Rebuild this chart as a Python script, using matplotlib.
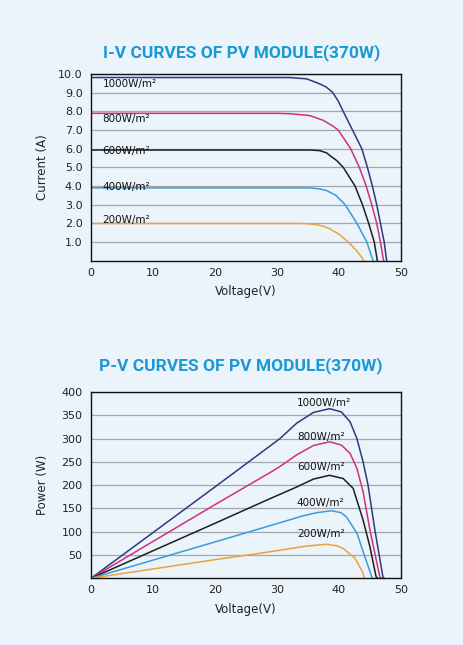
import matplotlib
matplotlib.use("Agg")
import matplotlib.pyplot as plt

# readings from the reference chart
labels = ["1000W/m²", "800W/m²", "600W/m²", "400W/m²", "200W/m²"]
colors = ["#2f3a7e", "#d3307a", "#1e1e1e", "#3a9bd8", "#eea23a"]

# I-V curves: voltage (V) / current (A)
iv_v = [
    [0, 10, 20, 30, 32.1, 34.8, 36.9, 38.0, 39.0, 39.9, 40.7, 42.2, 43.7, 44.6, 45.4, 46.1, 46.7, 47.3, 47.7],
    [0, 10, 20, 30, 32.1, 35.3, 37.5, 39.1, 39.9, 41.9, 43.3, 44.4, 45.3, 46.1, 46.7, 47.2],
    [0, 10, 20, 30, 35.3, 36.9, 38.0, 38.5, 39.7, 40.7, 42.6, 43.8, 44.8, 45.7, 46.2],
    [0, 10, 20, 30, 35.3, 36.8, 38.0, 39.5, 41.0, 42.9, 44.5, 45.5],
    [0, 10, 20, 30, 34.2, 36.2, 37.5, 38.5, 40.0, 41.5, 42.8, 43.5, 44.0],
]
iv_i = [
    [9.82, 9.82, 9.82, 9.82, 9.82, 9.75, 9.48, 9.3, 9.02, 8.55, 8.0, 7.0, 6.0, 5.0, 4.0, 3.0, 2.0, 1.0, 0],
    [7.9, 7.9, 7.9, 7.9, 7.88, 7.78, 7.52, 7.2, 7.0, 6.0, 5.0, 4.0, 3.0, 2.0, 1.0, 0],
    [5.93, 5.93, 5.93, 5.93, 5.93, 5.9, 5.78, 5.65, 5.35, 5.0, 4.0, 3.0, 2.0, 1.0, 0],
    [3.9, 3.9, 3.9, 3.9, 3.9, 3.85, 3.76, 3.5, 3.0, 2.0, 1.0, 0],
    [1.99, 1.99, 1.99, 1.99, 1.99, 1.94, 1.84, 1.71, 1.42, 1.0, 0.55, 0.25, 0],
]
iv_label_pos = [9.45, 7.6, 5.9, 3.95, 2.2]

# P-V curves: voltage (V) / power (W)
pv_v = [
    [0, 10, 20, 28.9, 30.5, 33.2, 35.9, 38.5, 40.4, 41.8, 42.9, 43.9, 44.7, 45.8, 47.1, 47.3],
    [0, 10, 20, 28.9, 30.5, 33.2, 35.9, 38.5, 40.4, 41.8, 42.9, 43.9, 45.0, 46.6, 46.9],
    [0, 10, 20, 28.9, 33.2, 35.9, 38.5, 40.7, 42.3, 43.9, 45.0, 46.0, 46.3],
    [0, 10, 20, 28.9, 34.2, 36.5, 38.8, 40.3, 41.2, 42.9, 44.2, 45.3, 45.5],
    [0, 10, 20, 28.9, 34.2, 36.3, 38.0, 39.6, 40.7, 42.6, 43.9, 44.1],
]
pv_p = [
    [0, 98, 196, 284, 300, 333, 356, 364, 357, 336, 300, 250, 200, 104, 3, 0],
    [0, 79, 158, 227, 240, 265, 285, 293, 286, 268, 236, 186, 104, 3, 0],
    [0, 59, 118, 171, 196, 213, 221, 214, 193, 125, 68, 3, 0],
    [0, 39, 78, 113, 134, 141, 145, 141, 132, 97, 46, 3, 0],
    [0, 20, 40, 57, 68, 71, 73, 70, 64, 43, 11, 0],
]
pv_label_pos = [376, 304, 238, 161, 95]

bg = "#ebf3fb"
title_blue = "#1b98d6"
grid_c = "#a3a6ad"
title_font = ["Roboto", "DejaVu Sans"]

fig = plt.figure(figsize=(4.64, 6.45), dpi=100, facecolor=bg)
ax1 = fig.add_axes([0.196, 0.596, 0.668, 0.289], facecolor=bg)
ax2 = fig.add_axes([0.196, 0.1034, 0.668, 0.289], facecolor=bg)

for ax in (ax1, ax2):
    ax.set_xlim(0, 50)
    ax.set_xticks([0, 10, 20, 30, 40, 50])
    ax.tick_params(length=0, labelsize=8, colors="#222222")
    ax.tick_params(axis="x", pad=5)
    ax.tick_params(axis="y", pad=6)
    ax.grid(axis="y", color=grid_c, linewidth=0.9)
    ax.set_axisbelow(True)
    for s in ax.spines.values():
        s.set_color("#111111")
        s.set_linewidth(1.0)
    ax.set_xlabel("Voltage(V)", fontsize=8.5, color="#222222")
    ax.xaxis.set_label_coords(0.5, -0.13)

# I-V chart
for v, i, c in zip(iv_v, iv_i, colors):
    ax1.plot(v, i, color=c, linewidth=1.1, solid_joinstyle="round")
for lab, y in zip(labels, iv_label_pos):
    ax1.text(1.9, y, lab, fontsize=7.5, va="center", ha="left", color="#111111")
ax1.set_ylim(0, 10)
ax1.set_yticks([1, 2, 3, 4, 5, 6, 7, 8, 9, 10])
ax1.set_yticklabels(["1.0", "2.0", "3.0", "4.0", "5.0", "6.0", "7.0", "8.0", "9.0", "10.0"])
ax1.set_ylabel("Current (A)", fontsize=8.5, color="#222222")
ax1.yaxis.set_label_coords(-0.135, 0.5)

# P-V chart
for v, p, c in zip(pv_v, pv_p, colors):
    ax2.plot(v, p, color=c, linewidth=1.1, solid_joinstyle="round")
for lab, y in zip(labels, pv_label_pos):
    ax2.text(33.2, y, lab, fontsize=7.5, va="center", ha="left", color="#111111")
ax2.set_ylim(0, 400)
ax2.set_yticks([50, 100, 150, 200, 250, 300, 350, 400])
ax2.set_ylabel("Power (W)", fontsize=8.5, color="#222222")
ax2.yaxis.set_label_coords(-0.135, 0.5)

fig.text(0.52, 0.918, "I-V CURVES OF PV MODULE(370W)", ha="center", va="center",
         fontsize=12.5, fontweight="bold", color=title_blue, family=title_font)
fig.text(0.52, 0.434, "P-V CURVES OF PV MODULE(370W)", ha="center", va="center",
         fontsize=12.5, fontweight="bold", color=title_blue, family=title_font)

fig.savefig("out.png", dpi=100, facecolor=bg)
